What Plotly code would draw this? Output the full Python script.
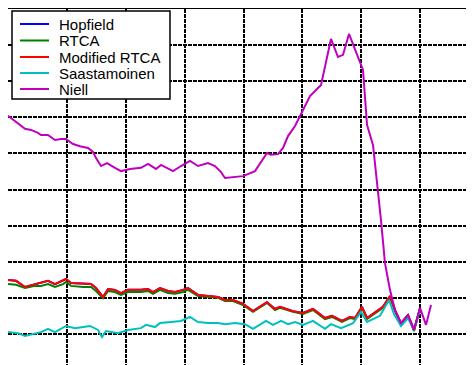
import plotly.graph_objects as go

series_names = ["Hopfield", "RTCA", "Modified RTCA", "Saastamoinen", "Niell"]
series_colors = ["#0000ff", "#008000", "#ff0000", "#00bfbf", "#bf00bf"]

x_main = [0, 1.36, 2.89, 4.59, 5.61, 6.79, 7.98, 9.34, 9.85, 10.70, 12.74, 14.10, 14.95, 16.14, 16.99,
          18.17, 19.19, 20.38, 22.59, 23.78, 24.63, 25.82, 27.18, 28.37, 29.72, 30.57, 32.27, 33.97,
          35.67, 36.86, 38.22, 39.92, 41.61, 43.99, 45.35, 46.20, 48.41, 50.11, 51.80, 53.84, 55.03,
          56.73, 58.09, 58.94, 60.13, 60.98, 63.69, 64.88, 65.73, 66.75, 67.94, 68.96, 69.98]

hopfield = [2.49, 2.47, 2.30, 2.38, 2.41, 2.47, 2.38, 2.47, 2.52, 2.41, 2.38, 2.38, 2.27, 2.02, 2.24,
            2.22, 2.13, 2.22, 2.22, 2.24, 2.16, 2.27, 2.19, 2.16, 2.22, 2.27, 2.08, 2.05, 2.02, 1.94,
            1.94, 1.83, 1.63, 1.88, 1.69, 1.75, 1.63, 1.58, 1.69, 1.44, 1.50, 1.36, 1.47, 1.44, 1.75,
            1.44, 1.75, 2.05, 1.66, 1.30, 1.52, 1.11, 1.72]

rtca = [2.38, 2.36, 2.27, 2.33, 2.33, 2.38, 2.30, 2.38, 2.44, 2.33, 2.30, 2.30, 2.19, 1.99, 2.19,
        2.16, 2.08, 2.16, 2.16, 2.19, 2.11, 2.22, 2.13, 2.11, 2.16, 2.22, 2.05, 2.02, 2.00, 1.91,
        1.91, 1.80, 1.61, 1.86, 1.66, 1.72, 1.61, 1.55, 1.66, 1.41, 1.47, 1.33, 1.44, 1.41, 1.72,
        1.41, 1.72, 2.02, 1.63, 1.27, 1.50, 1.08, 1.69]

modified_rtca = [2.49, 2.47, 2.30, 2.38, 2.41, 2.47, 2.38, 2.47, 2.52, 2.41, 2.38, 2.38, 2.27, 2.02, 2.24,
                 2.22, 2.13, 2.22, 2.22, 2.24, 2.16, 2.27, 2.19, 2.16, 2.22, 2.27, 2.08, 2.05, 2.02, 1.94,
                 1.94, 1.83, 1.63, 1.88, 1.69, 1.75, 1.63, 1.58, 1.69, 1.44, 1.50, 1.36, 1.47, 1.44, 1.75,
                 1.44, 1.75, 2.05, 1.66, 1.30, 1.52, 1.11, 1.72]

x_saast = [0, 1.70, 2.89, 5.61, 6.79, 7.98, 9.85, 11.38, 13.93, 15.29, 15.97, 16.65, 18.68, 20.38, 22.59,
           23.44, 24.97, 25.82, 27.69, 29.38, 30.91, 32.27, 33.97, 35.67, 36.86, 38.56, 40.25, 41.61,
           43.82, 45.01, 46.37, 47.56, 48.75, 50.11, 51.80, 53.84, 54.86, 56.56, 58.60, 59.96, 60.98,
           63.18, 64.71, 65.56, 66.75, 67.94, 68.96, 69.98]
saastamoinen = [1.05, 1.02, 0.94, 1.05, 1.14, 1.05, 1.22, 1.16, 1.22, 1.11, 0.91, 1.08, 1.02, 1.11, 1.16,
                1.25, 1.19, 1.30, 1.33, 1.36, 1.47, 1.33, 1.30, 1.30, 1.27, 1.30, 1.27, 1.14, 1.36, 1.25,
                1.36, 1.27, 1.33, 1.25, 1.36, 1.14, 1.27, 1.16, 1.30, 1.61, 1.33, 1.50, 1.94, 1.55, 1.22,
                1.44, 1.11, 1.66]

x_niell = [0, 2.89, 3.91, 5.10, 5.61, 6.79, 7.98, 9.00, 9.85, 11.04, 12.23, 13.59, 14.44, 14.95, 15.80,
           16.82, 18.17, 19.19, 20.72, 22.59, 23.78, 25.14, 25.99, 28.03, 29.38, 30.91, 32.27, 33.97,
           35.16, 36.18, 36.86, 38.22, 39.92, 41.95, 43.99, 44.67, 45.86, 46.71, 47.56, 48.75, 49.60,
           50.45, 51.30, 52.65, 53.16, 54.86, 56.05, 56.90, 57.92, 60.30, 60.64, 60.98, 62.00, 62.85,
           63.35, 64.03, 64.88, 65.73, 66.75, 67.94, 68.96, 69.98, 71.00, 71.85]
niell = [7.04, 6.68, 6.65, 6.57, 6.51, 6.51, 6.37, 6.40, 6.40, 6.26, 6.20, 6.15, 6.04, 5.87, 5.65,
         5.73, 5.60, 5.51, 5.57, 5.60, 5.71, 5.57, 5.68, 5.51, 5.65, 5.79, 5.65, 5.73, 5.65, 5.48,
         5.32, 5.35, 5.37, 5.51, 6.01, 5.96, 5.98, 6.15, 6.48, 6.76, 7.04, 7.31, 7.59, 7.81, 7.89,
         9.17, 8.67, 8.73, 9.31, 8.31, 7.59, 6.79, 6.23, 4.99, 4.16, 2.96, 2.22, 1.66, 1.30, 1.52,
         1.11, 1.72, 1.25, 1.80]

xs = [x_main, x_main, x_main, x_saast, x_niell]
ys = [hopfield, rtca, modified_rtca, saastamoinen, niell]

W, H = 474, 365
ML, MR, MT, MB = 0, 3, 1, 3
PW, PH = W - ML - MR, H - MT - MB

fig = go.Figure()
for name, color, x, y in zip(series_names, series_colors, xs, ys):
    fig.add_trace(go.Scatter(x=x, y=y, mode="lines", name=name,
                             line=dict(color=color, width=2), showlegend=False))

grid = dict(showgrid=True, gridcolor="#000000", gridwidth=2, griddash="4px,1px",
            zeroline=False, showticklabels=False, ticks="inside", ticklen=3,
            tickcolor="#000000")

# legend box drawn in paper coordinates (pixel offsets inside the plot area)
def px(v):
    return (v - ML) / PW

def py(v):
    return 1 - (v - MT) / PH

shapes = [dict(type="rect", xref="paper", yref="paper", x0=px(4), x1=px(162), y0=py(91), y1=py(3),
               line=dict(color="#000000", width=1.5), fillcolor="white", layer="above")]
annotations = []
row_y = [16, 32.5, 49, 65, 81]
for name, color, ry in zip(series_names, series_colors, row_y):
    shapes.append(dict(type="line", xref="paper", yref="paper", x0=px(12), x1=px(41),
                       y0=py(ry), y1=py(ry), line=dict(color=color, width=2), layer="above"))
    annotations.append(dict(xref="paper", yref="paper", x=px(49), y=py(ry), text=name,
                            showarrow=False, xanchor="left", yanchor="middle",
                            font=dict(family="Arial", size=15, color="#000000")))

fig.update_layout(
    width=W, height=H,
    margin=dict(l=ML, r=MR, t=MT, b=MB),
    paper_bgcolor="white", plot_bgcolor="white",
    xaxis=dict(range=[0, 80], dtick=10, showline=True, linecolor="#000000", linewidth=2,
               mirror=True, **grid),
    yaxis=dict(range=[0, 10], dtick=1, side="right", showline=True, linecolor="#000000",
               linewidth=2, mirror=False, **grid),
    shapes=shapes,
    annotations=annotations,
    showlegend=False,
)

fig.write_html("out.html")
